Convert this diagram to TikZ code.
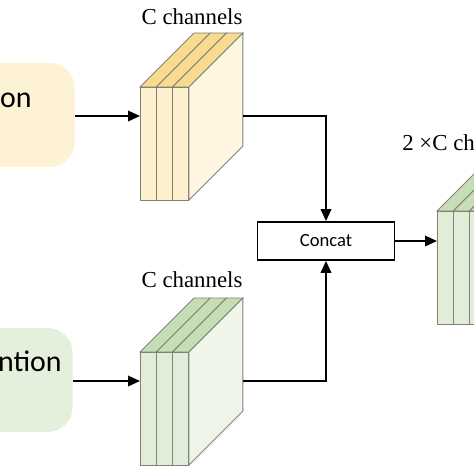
\documentclass[tikz,border=0pt]{standalone}
\usepackage{fontspec}
\setmainfont{Liberation Serif}
\newfontfamily\boxsans{Carlito}
\usetikzlibrary{arrows.meta,positioning}
\definecolor{YelFront}{RGB}{253,240,205}
\definecolor{YelTop}{RGB}{248,219,142}
\definecolor{YelSide}{RGB}{254,246,225}
\definecolor{YelBox}{RGB}{254,242,212}
\definecolor{GrnFront}{RGB}{226,237,217}
\definecolor{GrnTop}{RGB}{198,222,182}
\definecolor{GrnSide}{RGB}{238,245,233}
\definecolor{GrnBox}{RGB}{229,240,220}
\definecolor{SlabEdge}{RGB}{128,130,118}
\newcommand{\FeatStack}[7]{% x y slabs front top side name
\foreach \i in {1,...,#3} {
  \pgfmathsetmacro{\xa}{#1+(\i-1)*16.3}
  \pgfmathsetmacro{\xb}{#1+\i*16.3}
  \draw[slab,fill=#5] (\xa,#2) -- (\xa+54,#2-54) -- (\xb+54,#2-54) -- (\xb,#2) -- cycle;
  \draw[slab,fill=#4] (\xa,#2) rectangle (\xb,#2+113);
}
\pgfmathsetmacro{\xe}{#1+#3*16.3}
\draw[slab,fill=#6] (\xe,#2) -- (\xe+54,#2-54) -- (\xe+54,#2+59) -- (\xe,#2+113) -- cycle;
\coordinate (#7-in) at (#1,#2+29);
\coordinate (#7-out) at (\xe+54,#2+29);
}

\begin{document}
\begin{tikzpicture}[x=0.02cm,y=-0.02cm,
  slab/.style={draw=SlabEdge,line width=0.5pt},
  conn/.style={-{Triangle[length=0.24cm,width=0.21cm]},line width=1.1pt},
  attnbox/.style={rounded corners=0.5cm,minimum width=2cm,minimum height=2.08cm,inner sep=0pt},
  attntext/.style={font=\boxsans\fontsize{17}{20}\selectfont,inner sep=0pt},
  chlabel/.style={font=\fontsize{13}{15}\selectfont,inner sep=0pt},
  concatbox/.style={draw,line width=1pt,minimum width=2.74cm,minimum height=0.76cm,font=\boxsans\fontsize{10.6}{12}\selectfont}]
\useasboundingbox (0,0) rectangle (474,474);
\clip (0,0) rectangle (474,474);
% left boxes, cut by the page edge
\node[attnbox,fill=YelBox,anchor=east] (topbox) at (75,115) {};
\node[attntext,anchor=base east] (toptext) at (32,107) {on};
\node[attnbox,fill=GrnBox,anchor=east] (botbox) at (73,380) {};
\node[attntext,anchor=base east] (bottext) at (62,371) {ntion};
% feature stacks
\FeatStack{140}{87}{3}{YelFront}{YelTop}{YelSide}{top}
\FeatStack{140}{352}{3}{GrnFront}{GrnTop}{GrnSide}{bot}
\FeatStack{437}{211}{6}{GrnFront}{GrnTop}{GrnSide}{cat}
\node[chlabel] (toplabel) at (192,17) {C channels};
\node[chlabel] (botlabel) at (192,280) {C channels};
\node[chlabel,anchor=west] (catlabel) at (402,143) {2 ×C channels};
\node[concatbox] (concat) at (326,241) {Concat};
% connectors
\draw[conn] (topbox.east |- top-in) -- (top-in);
\draw[conn] (botbox.east |- bot-in) -- (bot-in);
\draw[conn] (top-out) -| (concat.north);
\draw[conn] (bot-out) -| (concat.south);
\draw[conn] (concat.east) -- (concat.east -| cat-in);
\end{tikzpicture}
\end{document}
